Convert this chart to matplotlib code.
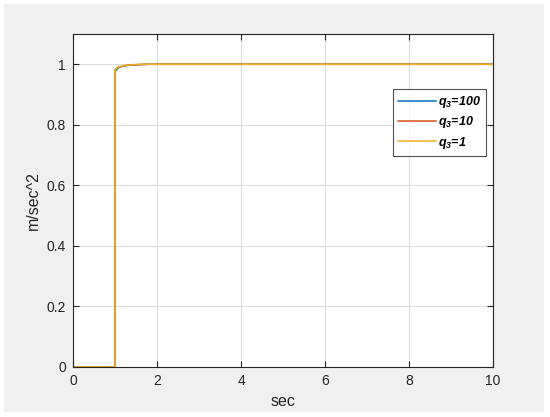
import matplotlib
matplotlib.use('Agg')
import matplotlib.pyplot as plt
from matplotlib.patches import Rectangle

plt.rcParams['font.family'] = ['Liberation Sans', 'DejaVu Sans']
plt.rcParams['mathtext.fontset'] = 'custom'
plt.rcParams['mathtext.it'] = 'Liberation Sans:italic:bold'
plt.rcParams['mathtext.rm'] = 'Liberation Sans:italic:bold'

# step responses
t = [0, 1.0, 1.0, 1.02, 1.05, 1.1, 1.2, 1.3, 1.45, 1.6, 1.8, 2.0, 10]
y_q100 = [0, 0, 0.975, 0.98, 0.985, 0.99, 0.994, 0.996, 0.998, 0.999, 1.0, 1.0, 1.0]
y_q10 = [0, 0, 0.98, 0.984, 0.988, 0.991, 0.995, 0.997, 0.998, 0.999, 1.0, 1.0, 1.0]
y_q1 = [0, 0, 0.982, 0.986, 0.989, 0.992, 0.995, 0.997, 0.999, 1.0, 1.0, 1.0, 1.0]
labels = ['$q_3$=100', '$q_3$=10', '$q_3$=1']
colors = ['#0072BD', '#D95319', '#EDB120']

fig = plt.figure(figsize=(5.5, 4.17), dpi=100)
fig.patch.set_facecolor('white')
fig.patches.append(Rectangle((4 / 550, 5 / 417), 540 / 550, 408 / 417,
                             transform=fig.transFigure, facecolor='#f0f0f0',
                             edgecolor='none', zorder=-10))

ax = fig.add_axes([73 / 550, 50 / 417, 420 / 550, 333 / 417])
ax.set_facecolor('white')

for y, lab, c in zip([y_q100, y_q10, y_q1], labels, colors):
    ax.plot(t, y, color=c, lw=1.1, label=lab)

ax.set_xlim(0, 10)
ax.set_ylim(0, 1.1)
ax.set_xticks([0, 2, 4, 6, 8, 10])
ax.set_yticks([0, 0.2, 0.4, 0.6, 0.8, 1])
ax.set_yticklabels(['0', '0.2', '0.4', '0.6', '0.8', '1'])
ax.grid(True, color='#dcdcdc', lw=0.8)
ax.set_axisbelow(True)
ax.tick_params(direction='in', top=True, right=True, length=4, labelsize=10,
               color='#262626', labelcolor='#262626', pad=5)
for s in ax.spines.values():
    s.set_color('#262626')
    s.set_linewidth(0.8)

ax.set_xlabel('sec', fontsize=11.5, color='#262626')
ax.set_ylabel('m/sec^2', fontsize=11.5, color='#262626')

leg = ax.legend(loc='upper left', bbox_to_anchor=((393 - 73) / 420, (367 - 89) / 333),
                frameon=True, fancybox=False, handlelength=3.0,
                borderaxespad=0, labelspacing=0.35, handletextpad=0.2,
                borderpad=0.4,
                prop={'style': 'italic', 'weight': 'bold', 'size': 9})
leg.get_frame().set_edgecolor('#262626')
leg.get_frame().set_linewidth(0.8)

fig.savefig('out.png', dpi=100)
